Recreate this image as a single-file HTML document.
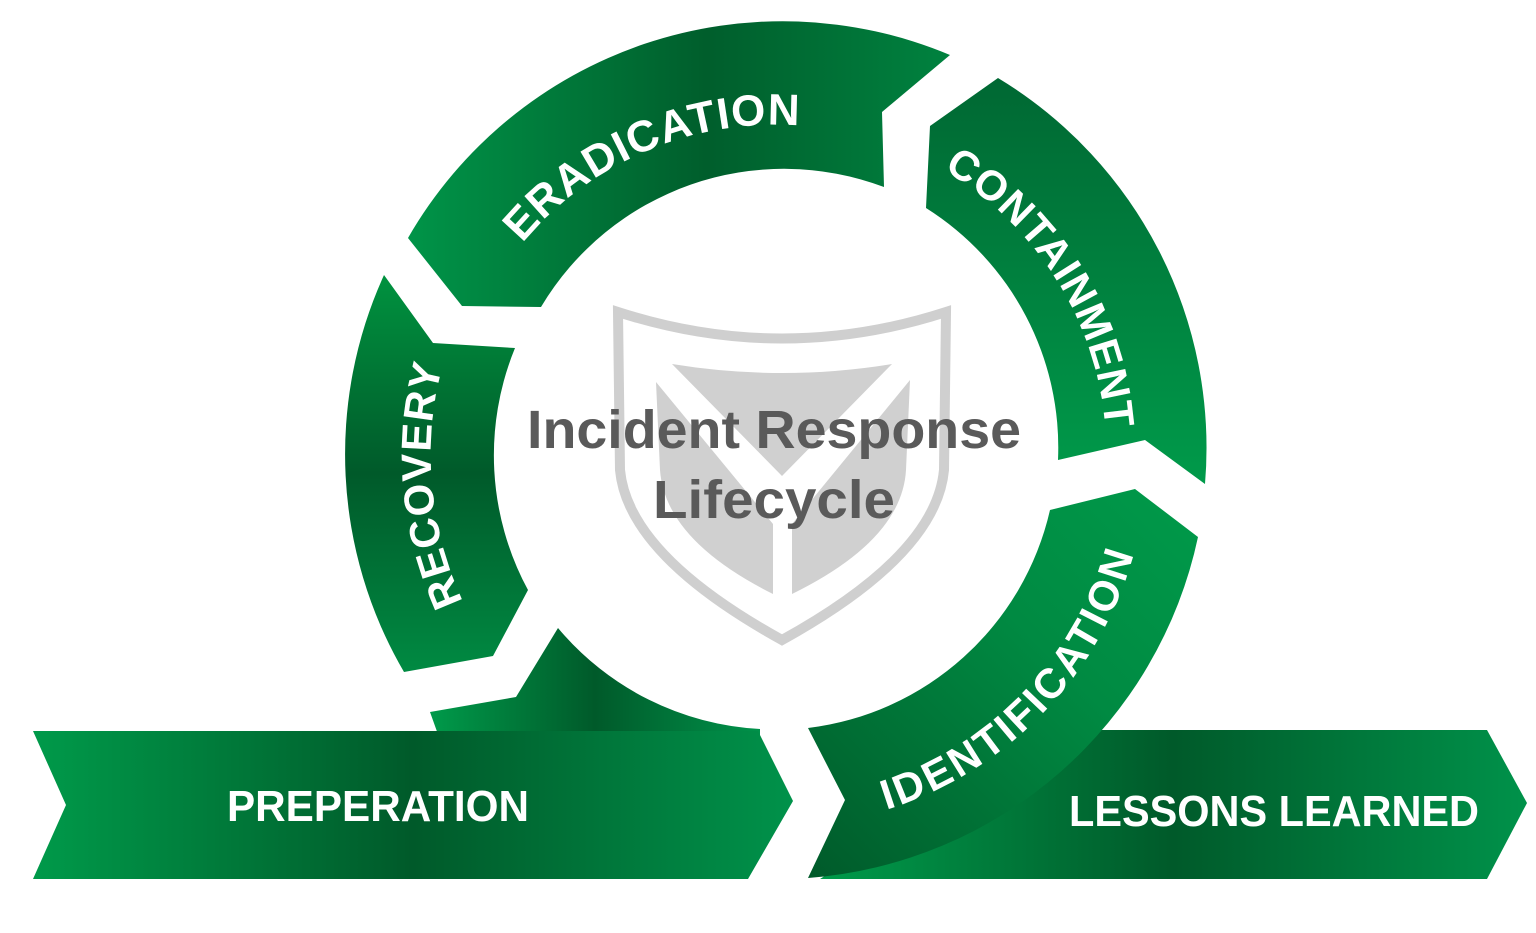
<!DOCTYPE html>
<html><head><meta charset="utf-8"><style>
html,body{margin:0;padding:0;background:#fff;width:1536px;height:933px;overflow:hidden}
svg{display:block}
text{font-family:"Liberation Sans",sans-serif;font-weight:bold}
</style></head><body>
<svg width="1536" height="933" viewBox="0 0 1536 933" xmlns="http://www.w3.org/2000/svg">
<defs>
<linearGradient id="gh" x1="0" y1="0" x2="1" y2="0">
<stop offset="0" stop-color="#009a4a"/><stop offset="0.5" stop-color="#005a2a"/><stop offset="1" stop-color="#00924a"/>
</linearGradient>
<linearGradient id="ge" x1="0" y1="0" x2="1" y2="0">
<stop offset="0" stop-color="#009448"/><stop offset="0.55" stop-color="#005e2c"/><stop offset="1" stop-color="#00823f"/>
</linearGradient>
<linearGradient id="gc" x1="0" y1="0" x2="0" y2="1">
<stop offset="0" stop-color="#006833"/><stop offset="1" stop-color="#009a4a"/>
</linearGradient>
<linearGradient id="gr" x1="0" y1="0" x2="0" y2="1">
<stop offset="0" stop-color="#00923f"/><stop offset="0.5" stop-color="#005a2a"/><stop offset="1" stop-color="#008a42"/>
</linearGradient>
<linearGradient id="gi" x1="0" y1="1" x2="1" y2="0">
<stop offset="0" stop-color="#005a2a"/><stop offset="0.6" stop-color="#008a42"/><stop offset="1" stop-color="#009a4a"/>
</linearGradient>
<path id="pE" d="M453,386 A330,330 0 0 1 951,175"/>
<path id="pC" d="M793,125 A330,330 0 0 1 1080,584"/>
<path id="pR" d="M603,754 A345,345 0 0 1 554,191"/>
<path id="pI" d="M716,795 A345,345 0 0 0 1113,383"/>
</defs>

<!-- shield -->
<path d="M618,312 Q782,365 946,312 L944,470 Q936,555 782,640 Q628,555 620,470 Z" fill="none" stroke="#cfcfcf" stroke-width="10"/>
<path d="M672,364 Q782,382 892,364 L782,476 Z" fill="#d0d0d0"/>
<path d="M656,382 L773,524 L773,594 Q665,540 660,470 Z" fill="#d0d0d0"/>
<path d="M910,380 L792,524 L792,594 Q902,540 906,470 Z" fill="#d0d0d0"/>

<!-- lessons learned arrow -->
<path d="M1050,730 L1487,730 L1527,803 L1487,879 L820,879 Z" fill="url(#gh)"/>
<!-- preperation arrow -->
<path d="M430,712 L516,697 L558,628 A283,283 0 0 0 760,729 L760,740 L440,740 Z" fill="url(#gh)"/>
<path d="M33,731 L758,731 L793,801 L748,879 L33,879 L66,805 Z" fill="url(#gh)"/>

<!-- segments -->
<path d="M408,238 A432,432 0 0 1 950,55 L882,112 L884,187 A283,283 0 0 0 541,307 L462,306 Z" fill="url(#ge)"/>
<path d="M998,78 A432,432 0 0 1 1205,484 L1145,440 L1058,460 A283,283 0 0 0 926,208 L930,126 Z" fill="url(#gc)"/>
<path d="M384,275 A432,432 0 0 0 404,672 L493,656 L528,590 A283,283 0 0 1 515,348 L433,343 Z" fill="url(#gr)"/>
<path d="M1135,489 L1198,537 A432,432 0 0 1 808,878 L845,800 L808,728 A283,283 0 0 0 1050,510 Z" fill="url(#gi)"/>

<!-- labels -->
<text font-size="44" fill="#fff" letter-spacing="1"><textPath href="#pE" startOffset="50%" text-anchor="middle">ERADICATION</textPath></text>
<text font-size="42" fill="#fff" letter-spacing="1"><textPath href="#pC" startOffset="50%" text-anchor="middle">CONTAINMENT</textPath></text>
<text font-size="42" fill="#fff" letter-spacing="1"><textPath href="#pR" startOffset="50%" text-anchor="middle">RECOVERY</textPath></text>
<text font-size="42" fill="#fff" letter-spacing="1" dy="-4"><textPath href="#pI" startOffset="50%" text-anchor="middle" dominant-baseline="hanging">IDENTIFICATION</textPath></text>

<text x="378" y="821" font-size="44" fill="#fff" text-anchor="middle" textLength="302" lengthAdjust="spacingAndGlyphs">PREPERATION</text>
<text x="1274" y="826" font-size="44" fill="#fff" text-anchor="middle" textLength="410" lengthAdjust="spacingAndGlyphs">LESSONS LEARNED</text>

<text x="774" y="448" font-size="54" fill="#5a5a5a" text-anchor="middle" textLength="494" lengthAdjust="spacingAndGlyphs">Incident Response</text>
<text x="774" y="518" font-size="54" fill="#5a5a5a" text-anchor="middle" textLength="242" lengthAdjust="spacingAndGlyphs">Lifecycle</text>
</svg>
</body></html>
